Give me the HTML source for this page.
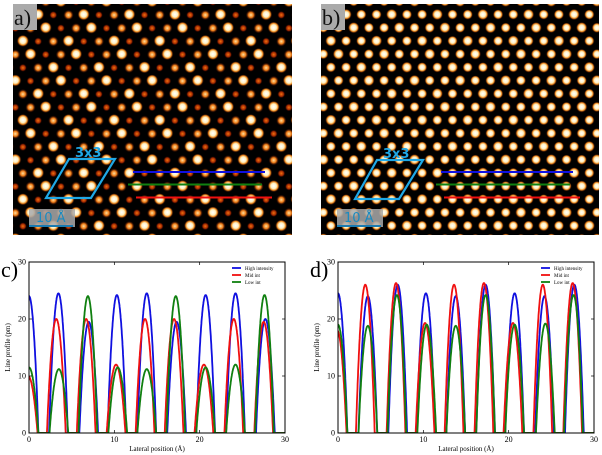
<!DOCTYPE html>
<html><head><meta charset="utf-8"><style>
body{margin:0;width:602px;height:455px;background:#fff;overflow:hidden;font-family:"Liberation Serif",serif}
svg{position:absolute;left:0;top:0}
</style></head><body>
<svg id="s" width="602" height="455">
<defs>
<radialGradient id="g3" cx="50%" cy="45%" r="50%"><stop offset="0" stop-color="#fff"/><stop offset="0.45" stop-color="#fff0c0"/><stop offset="0.7" stop-color="#f08a1c"/><stop offset="1" stop-color="#400" stop-opacity="0"/></radialGradient>
<radialGradient id="g2" cx="50%" cy="50%" r="50%"><stop offset="0" stop-color="#ffe0a0"/><stop offset="0.5" stop-color="#ee7a14"/><stop offset="1" stop-color="#400" stop-opacity="0"/></radialGradient>
<radialGradient id="g1" cx="50%" cy="50%" r="50%"><stop offset="0" stop-color="#f07010"/><stop offset="0.6" stop-color="#a02800"/><stop offset="1" stop-color="#300" stop-opacity="0"/></radialGradient>
</defs>
</svg>
<script>
// ---------- chart data ----------
const xTicks=[0,10,20,30];
const yTicks=[0,10,20,30];
const seriesNames=["High intensity","Mid int","Low int"];
const cBlueCenters=[0,3.45,7.0,10.3,13.8,17.3,20.7,24.2,27.7];
const cBlueHeights=[24,24.5,19.5,24.2,24.5,19.5,24.2,24.5,20];
const cRedCenters=[-0.1,3.2,6.7,10.2,13.6,17.0,20.5,24.0,27.5];
const cRedHeights=[10,20,20,12,20,20,12,20,19.5];
const cGreenCenters=[0,3.5,6.9,10.4,13.8,17.2,20.7,24.2,27.6];
const cGreenHeights=[11.5,11.2,24,11.5,11.2,24,11.5,12,24.2];
const dBlueCenters=[0,3.5,7.0,10.3,13.8,17.3,20.7,24.2,27.7];
const dBlueHeights=[24.5,24,26,24.5,24,26,24.5,24,26];
const dRedCenters=[-0.1,3.2,6.8,10.2,13.6,17.1,20.5,24.0,27.5];
const dRedHeights=[18,26,26.3,19.3,26,26.3,19.3,26,26.3];
const dGreenCenters=[0,3.5,6.9,10.4,13.8,17.3,20.7,24.3,27.6];
const dGreenHeights=[19,18.8,24.2,19,18.8,24.2,19,19.2,24.2];

const NS="http://www.w3.org/2000/svg";
const svg=document.getElementById('s');
function mk(t,a,p){const e=document.createElementNS(NS,t);for(const k in a)e.setAttribute(k,a[k]);(p||svg).appendChild(e);return e;}

// ---------- STM images ----------
function image(x0,y0,x1,y1,uniform,name){
  const g=mk('g',{});
  
  
  mk('rect',{x:x0,y:y0,width:x1-x0,height:y1-y0,fill:'#000'},g);
  const cp='cp'+name;
  const c=mk('clipPath',{id:cp},svg);mk('rect',{x:x0,y:y0,width:x1-x0,height:y1-y0},c);
  const sg=mk('g',{'clip-path':'url(#'+cp+')'},g);
  for(let r=0;r<19;r++){
    const y=y0+11-13.2+r*13.2;
    const off=(r%2)*7.6;
    for(let i=-1;i<20;i++){
      const x=x0+2.3+off+i*15.2;
      const k=((i*2+r*1)%3+3)%3;
      let rad,gr;
      if(uniform){rad=k==0?5.8:5.3;gr='g3';}
      else{ if(k==0){rad=6.2;gr='g3';}else if(k==1){rad=5.2;gr='g2';}else{rad=4.0;gr='g1';}}
      mk('circle',{cx:x,cy:y,r:rad,fill:'url(#'+gr+')'},sg);
    }
  }
  return g;
}
function overlay(ox,p,lab){
  const g=mk('g',{});
  mk('rect',{x:ox,y:4,width:24,height:26,fill:'#aaa'},g);
  const t=mk('text',{x:ox+1,y:25,'font-size':22,fill:'#111'},g);t.textContent=lab;
  
  
  const pg=mk('polygon',{points:p.map(q=>q.join(',')).join(' '),fill:'none',stroke:'#1fa8e6','stroke-width':2.2},g);
  
  
  const t2=mk('text',{x:p[0][0]+6,y:p[0][1]-2,'font-size':13,'font-family':'DejaVu Sans, sans-serif','font-weight':'bold',fill:'#1fa8e6'},g);t2.textContent='3x3';
  const lb=ox-13;
  mk('line',{x1:lb+133,y1:172,x2:lb+265,y2:172,stroke:'#1010e0','stroke-width':2},g);
  mk('line',{x1:lb+128,y1:184.5,x2:lb+262,y2:184.5,stroke:'#108010','stroke-width':2},g);
  mk('line',{x1:lb+136,y1:197.5,x2:lb+272,y2:197.5,stroke:'#f01010','stroke-width':2},g);
  mk('rect',{x:lb+29,y:209,width:46,height:18,fill:'#aaa','fill-opacity':0.85},g);
  const t3=mk('text',{x:lb+36,y:222,'font-size':13,'font-family':'DejaVu Sans, sans-serif',fill:'#1a8ac0'},g);t3.textContent='10 Å';
  
  
  mk('line',{x1:lb+29,y1:226,x2:lb+73,y2:226,stroke:'#1a7ab0','stroke-width':2},g);
}
image(13,4,292,235,false,'stm-image-a');
overlay(13,[[69,159],[115,159],[91,198],[46,198]],'a)');
image(321,4,599,235,true,'stm-image-b');
overlay(321,[[377,160],[423,160],[399,199],[355,199]],'b)');

// ---------- charts ----------
function chart(px0,px1,lab,series,name){
  const py0=262,py1=433;
  const xs=v=>px0+(v-0)/30*(px1-px0);
  const ys=v=>py1-v/30*(py1-py0);
  const g=mk('g',{});
  
  
  const cid='clip'+name;
  const c=mk('clipPath',{id:cid},svg);mk('rect',{x:px0,y:py0,width:px1-px0,height:py1-py0},c);
  const plot=mk('g',{'clip-path':'url(#'+cid+')'},g);
  const cols=['#1010e0','#f01010','#108010'];
  series.forEach((s,si)=>{
    let pts=[];
    for(let x=-1;x<=30;x+=0.02){
      let v=0;
      s[0].forEach((cx,i)=>{const h=s[1][i];const w=1.1;const u=(x-cx)/w;const y=h*(1-u*u);if(y>v)v=y;});
      pts.push(xs(x).toFixed(1)+','+ys(v<0?0:v).toFixed(1));
    }
    const pl=mk('polyline',{points:pts.join(' '),fill:'none',stroke:cols[si],'stroke-width':1.8},plot);
    
    
  });
  mk('rect',{x:px0,y:py0,width:px1-px0,height:py1-py0,fill:'none',stroke:'#000','stroke-width':1},g);
  xTicks.forEach(t=>{
    mk('line',{x1:xs(t),y1:py1,x2:xs(t),y2:py1-3,stroke:'#000','stroke-width':0.7},g);
    mk('line',{x1:xs(t),y1:py0,x2:xs(t),y2:py0+3,stroke:'#000','stroke-width':0.7},g);
    const tt=mk('text',{x:xs(t),y:py1+9,'font-size':8,'text-anchor':'middle'},g);tt.textContent=t;
  });
  yTicks.forEach(t=>{
    mk('line',{x1:px0,y1:ys(t),x2:px0+3,y2:ys(t),stroke:'#000','stroke-width':0.7},g);
    mk('line',{x1:px1,y1:ys(t),x2:px1-3,y2:ys(t),stroke:'#000','stroke-width':0.7},g);
    const tt=mk('text',{x:px0-3,y:ys(t)+2.5,'font-size':8,'text-anchor':'end'},g);tt.textContent=t;
  });
  const xl=mk('text',{x:(px0+px1)/2,y:451,'font-size':7,'text-anchor':'middle'},g);xl.textContent='Lateral position (Å)';
  
  
  const yl=mk('text',{x:0,y:0,'font-size':7,'text-anchor':'middle',transform:`translate(${px0-19},${(py0+py1)/2}) rotate(-90)`},g);yl.textContent='Line profile (pm)';
  
  
  const pl=mk('text',{x:px0-28,y:277,'font-size':22},g);pl.textContent=lab;
  
  
  seriesNames.forEach((n,i)=>{
    const ly=268+i*7;
    const le=mk('g',{},g);
    
    
    mk('line',{x1:px1-53,y1:ly,x2:px1-44,y2:ly,stroke:cols[i],'stroke-width':1.8},le);
    const t=mk('text',{x:px1-40,y:ly+2,'font-size':5},le);t.textContent=n;
  });
}
chart(29,285,'c)',[[cBlueCenters,cBlueHeights],[cRedCenters,cRedHeights],[cGreenCenters,cGreenHeights]],'chart-c');
chart(338,594,'d)',[[dBlueCenters,dBlueHeights],[dRedCenters,dRedHeights],[dGreenCenters,dGreenHeights]],'chart-d');
</script>
</body></html>
